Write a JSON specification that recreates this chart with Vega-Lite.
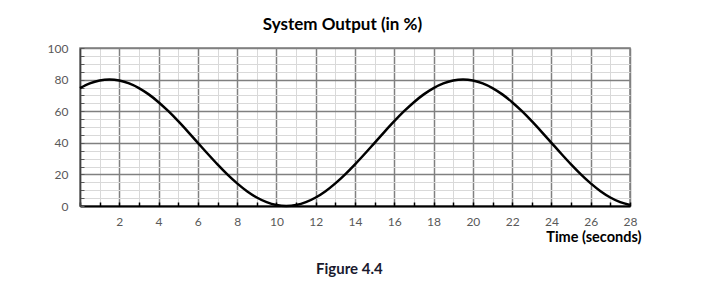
{
  "$schema": "https://vega.github.io/schema/vega-lite/v6.json",
  "autosize": {"type": "none"},
  "width": 550,
  "height": 158,
  "padding": {"left": 80, "top": 48, "right": 88, "bottom": 91},
  "background": "white",
  "title": {"text": "Figure 4.4", "orient": "bottom", "anchor": "start", "frame": "group", "dx": 236, "offset": 18, "font": "Lato", "fontSize": 15, "fontWeight": "bold", "color": "#1a1a2e"},
  "config": {
    "view": {"stroke": "#7f7f7f", "strokeWidth": 1.5},
    "axis": {"labelFont": "Lato", "titleFont": "Lato"}
  },
  "data": {"values": [
    {"t": 0, "y": 74.64}, {"t": 0.5, "y": 77.59}, {"t": 1, "y": 79.39}, {"t": 1.5, "y": 80},
    {"t": 2, "y": 79.39}, {"t": 2.5, "y": 77.59}, {"t": 3, "y": 74.64}, {"t": 3.5, "y": 70.64},
    {"t": 4, "y": 65.71}, {"t": 4.5, "y": 60}, {"t": 5, "y": 53.68}, {"t": 5.5, "y": 46.95},
    {"t": 6, "y": 40}, {"t": 6.5, "y": 33.05}, {"t": 7, "y": 26.32}, {"t": 7.5, "y": 20},
    {"t": 8, "y": 14.29}, {"t": 8.5, "y": 9.36}, {"t": 9, "y": 5.36}, {"t": 9.5, "y": 2.41},
    {"t": 10, "y": 0.61}, {"t": 10.5, "y": 0}, {"t": 11, "y": 0.61}, {"t": 11.5, "y": 2.41},
    {"t": 12, "y": 5.36}, {"t": 12.5, "y": 9.36}, {"t": 13, "y": 14.29}, {"t": 13.5, "y": 20},
    {"t": 14, "y": 26.32}, {"t": 14.5, "y": 33.05}, {"t": 15, "y": 40}, {"t": 15.5, "y": 46.95},
    {"t": 16, "y": 53.68}, {"t": 16.5, "y": 60}, {"t": 17, "y": 65.71}, {"t": 17.5, "y": 70.64},
    {"t": 18, "y": 74.64}, {"t": 18.5, "y": 77.59}, {"t": 19, "y": 79.39}, {"t": 19.5, "y": 80},
    {"t": 20, "y": 79.39}, {"t": 20.5, "y": 77.59}, {"t": 21, "y": 74.64}, {"t": 21.5, "y": 70.64},
    {"t": 22, "y": 65.71}, {"t": 22.5, "y": 60}, {"t": 23, "y": 53.68}, {"t": 23.5, "y": 46.95},
    {"t": 24, "y": 40}, {"t": 24.5, "y": 33.05}, {"t": 25, "y": 26.32}, {"t": 25.5, "y": 20},
    {"t": 26, "y": 14.29}, {"t": 26.5, "y": 9.36}, {"t": 27, "y": 5.36}, {"t": 27.5, "y": 2.41},
    {"t": 28, "y": 0.61}
  ]},
  "layer": [
    {
      "mark": {"type": "line", "color": "black", "strokeWidth": 2.5, "interpolate": "monotone"},
      "encoding": {
        "x": {"field": "t", "type": "quantitative", "scale": {"domain": [0, 28], "nice": false, "zero": false},
          "axis": {
            "orient": "bottom",
            "values": [0,1,2,3,4,5,6,7,8,9,10,11,12,13,14,15,16,17,18,19,20,21,22,23,24,25,26,27,28],
            "labelExpr": "datum.value % 2 === 0 && datum.value > 0 ? datum.label : ''",
            "labelOverlap": false,
            "labelColor": "#595959", "labelFontSize": 12, "labelPadding": 14, "labelFlush": false,
            "tickColor": "black", "tickSize": -4, "tickWidth": 1.5,
            "domainColor": "black", "domainWidth": 2,
            "grid": true,
            "gridColor": {"condition": {"test": "datum.value % 2 === 0", "value": "#808080"}, "value": "#d9d9d9"},
            "gridWidth": {"condition": {"test": "datum.value % 2 === 0", "value": 1.5}, "value": 1},
            "title": "Time (seconds)", "titleFontSize": 14.5, "titleFontWeight": "bold", "titleColor": "black",
            "titleAlign": "right", "titleAnchor": null, "titleX": 561, "titleY": 35, "titleBaseline": "alphabetic"
          }},
        "y": {"field": "y", "type": "quantitative", "scale": {"domain": [0, 100], "nice": false},
          "axis": {
            "values": [0,5,10,15,20,25,30,35,40,45,50,55,60,65,70,75,80,85,90,95,100],
            "labelExpr": "datum.value % 20 === 0 ? datum.label : ''",
            "labelOverlap": false,
            "labelColor": "#595959", "labelFontSize": 12, "labelPadding": 16,
            "tickColor": "#595959", "tickSize": -4, "tickWidth": 1,
            "domainColor": "#404040", "domainWidth": 1.5,
            "grid": true,
            "gridColor": {"condition": {"test": "datum.value % 20 === 0", "value": "#808080"}, "value": "#d9d9d9"},
            "gridWidth": {"condition": {"test": "datum.value % 20 === 0", "value": 1.5}, "value": 1},
            "title": null
          }}
      }
    },
    {
      "mark": {"type": "rule", "opacity": 0},
      "encoding": {
        "x": {"field": "t", "type": "quantitative",
          "axis": {"orient": "top", "labels": false, "ticks": false, "domain": false, "grid": false,
            "title": "System Output (in %)", "titleFontSize": 17, "titleFontWeight": "bold", "titleColor": "black",
            "titleAlign": "center", "titleAnchor": null, "titleX": 262, "titleY": -19, "titleBaseline": "alphabetic"}}
      }
    }
  ],
  "resolve": {"axis": {"x": "independent"}}
}
